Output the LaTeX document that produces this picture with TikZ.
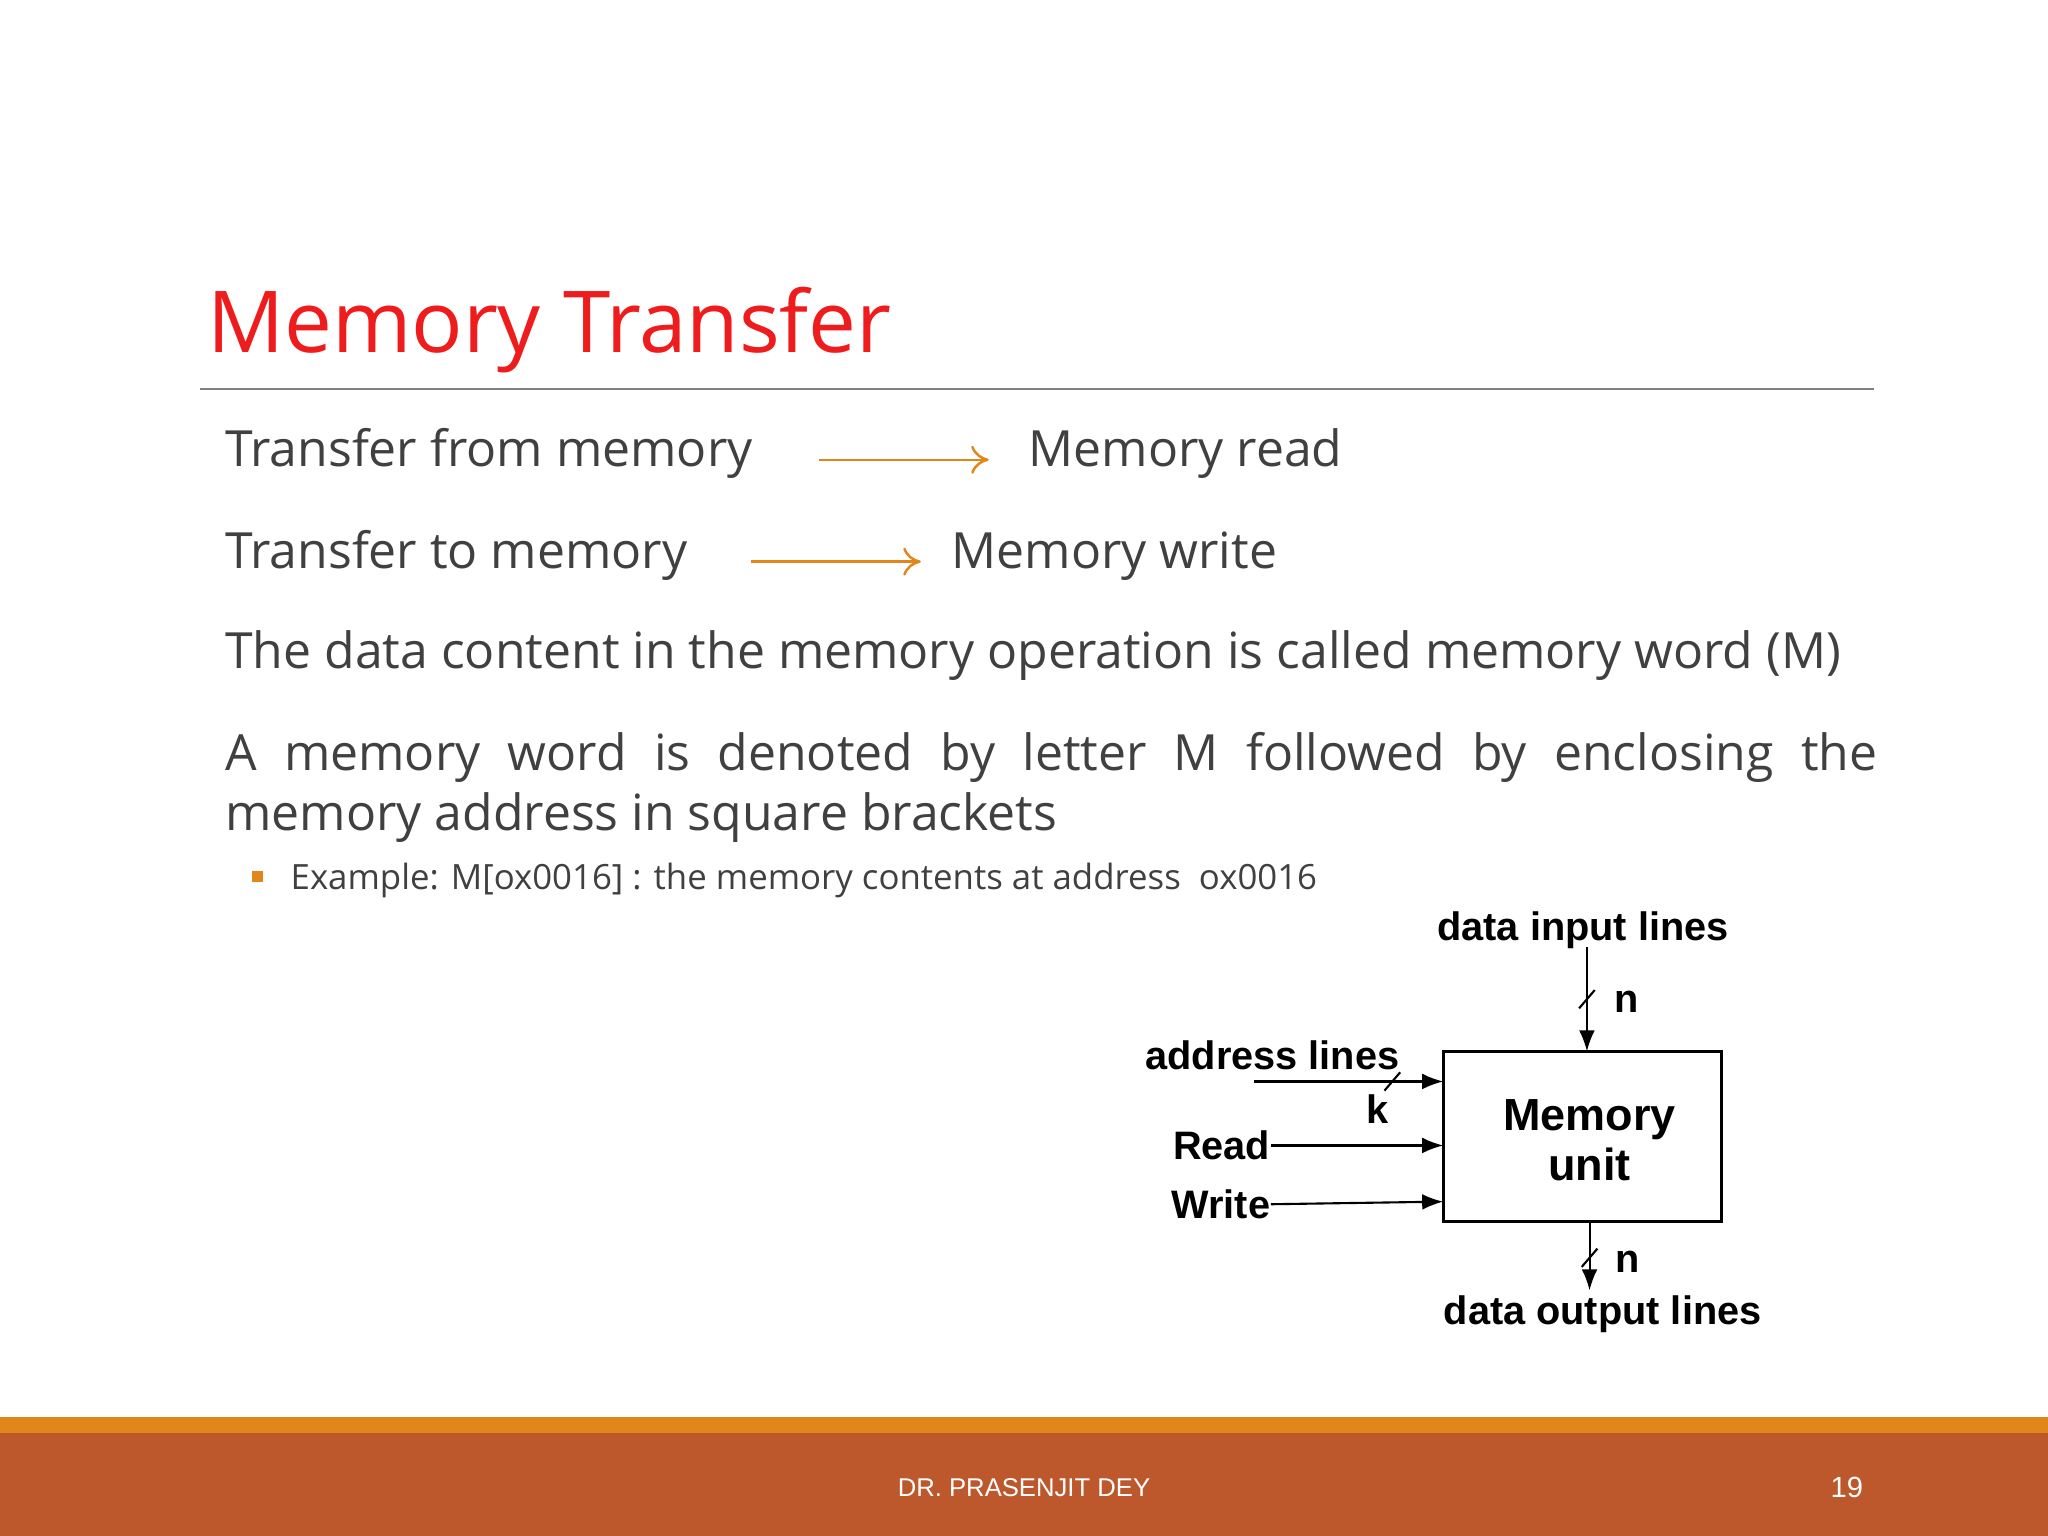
\documentclass[tikz,border=0pt]{standalone}
\usepackage{fontspec}
\setmainfont{Open Sans}
\newfontfamily\arial{Liberation Sans}
\usetikzlibrary{arrows.meta}
\definecolor{ttl}{HTML}{EE1C1C}
\definecolor{bodyc}{HTML}{404040}
\definecolor{org}{HTML}{E0861A}
\definecolor{brn}{HTML}{BC582C}
\begin{document}
\begin{tikzpicture}[x=0.013061cm,y=-0.013061cm,
  body/.style={anchor=base west,inner sep=0,text=bodyc,font=\fontsize{14.2}{17}\selectfont},
  lab/.style={inner sep=0,font=\arial\bfseries\fontsize{11.3}{13}\selectfont},
  sig/.style={-{Latex[length=6pt,width=4.5pt]},line width=0.6pt},
  oarr/.style={org,line width=0.7pt,-{To[length=5pt,width=8pt]}}]
\useasboundingbox (0,0) rectangle (1568,1176);
\fill[white] (0,0) rectangle (1568,1176);
\node[anchor=base west,inner sep=0,text=ttl,font=\fontsize{24.3}{29}\selectfont] (title) at (158,270) {Memory Transfer};
\draw[gray,line width=0.5pt] (153,298) -- (1435,298);
\node[body] (l1) at (172,357) {Transfer from memory};
\coordinate (a1s) at (627,352); \coordinate (a1e) at (757,352);
\draw[oarr] (a1s) -- (a1e);
\node[body] (r1) at (787,357) {Memory read};
\node[body] (l2) at (172,435) {Transfer to memory};
\coordinate (a2s) at (575,430); \coordinate (a2e) at (705,430);
\draw[oarr] (a2s) -- (a2e);
\node[body] (r2) at (728,435) {Memory write};
\node[body] (l3) at (172,512) {The data content in the memory operation is called memory word (M)};
\node[body] (l4) at (172,590) {\makebox[470pt][s]{A memory word is denoted by letter M followed by enclosing the}};
\node[body] (l5) at (172,636) {memory address in square brackets};
\fill[org] (193,667) rectangle (201,675);
\node[body,font=\fontsize{9.9}{12}\selectfont] (ex) at (222,681) {Example: M[ox0016] : the memory contents at address\ \ ox0016};
% diagram
\draw[line width=0.8pt] (1105,805) rectangle (1318,935);
\node[lab,align=center,font=\arial\bfseries\fontsize{12.8}{14}\selectfont] (memt) at (1217,873) {Memory\\unit};
\node[lab] (din) at (1212,712) {data input lines};
\coordinate (dinS) at (1215,725); \coordinate (dinE) at (1215,805);
\draw[sig] (dinS) -- (dinE);
\draw[line width=0.6pt] (1209,772) -- (1221,758);
\node[lab] (n1) at (1245,767) {n};
\node[lab,anchor=east] (addr) at (1072,808) {address lines};
\coordinate (adS) at (960,828); \coordinate (adE) at (1105,828);
\draw[sig] (adS) -- (adE);
\draw[line width=0.6pt] (1060,835) -- (1072,821);
\node[lab] (k) at (1055,849) {k};
\node[lab,anchor=east] (rd) at (973,877) {Read};
\coordinate (rdE) at (1105,877);
\draw[sig] (rd.east) -- (rdE);
\node[lab,anchor=east] (wr) at (973,922) {Write};
\coordinate (wrE) at (1105,920);
\draw[sig] (wr.east) -- (wrE);
\coordinate (doS) at (1217,935); \coordinate (doE) at (1217,988);
\draw[sig] (doS) -- (doE);
\draw[line width=0.6pt] (1211,970) -- (1223,956);
\node[lab] (n2) at (1246,966) {n};
\node[lab] (dout) at (1227,1006) {data output lines};
% footer
\fill[org] (0,1085) rectangle (1568,1097);
\fill[brn] (0,1097) rectangle (1568,1176);
\node[text=white,font=\arial\fontsize{7.3}{9}\selectfont] (auth) at (784,1139) {DR. PRASENJIT DEY};
\node[text=white,font=\arial\fontsize{8.3}{10}\selectfont] (pg) at (1414,1139) {19};
\end{tikzpicture}
\end{document}
